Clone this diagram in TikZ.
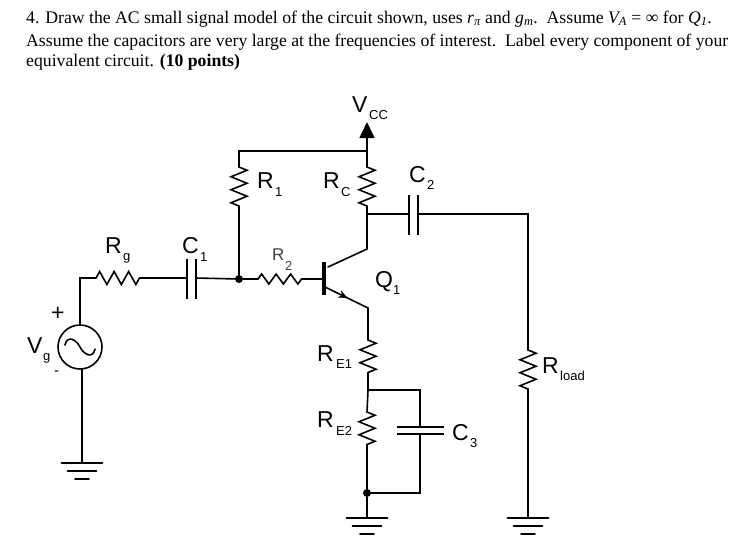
\documentclass[tikz,border=0pt]{standalone}
\usepackage{fontspec}
\setmainfont{Liberation Serif}
\newfontfamily\lblfont{Liberation Sans}
\usetikzlibrary{decorations.pathmorphing,decorations.markings,arrows.meta}
\tikzset{
  wire/.style={line width=1.6pt,line cap=round,line join=miter},
  res/.style={wire,decorate,decoration={zigzag,segment length=13pt,amplitude=8pt}},
  resh/.style={wire,decorate,decoration={zigzag,segment length=14.5pt,amplitude=6.5pt}},
  ress/.style={wire,decorate,decoration={zigzag,segment length=14.5pt,amplitude=5pt}},
  plate/.style={line width=1.6pt},
  dot/.style={circle,fill=black,inner sep=0pt,minimum size=8pt},
  para/.style={anchor=base west,inner sep=0pt,font=\fontsize{17.7}{20}\selectfont},
  lbl/.style={inner sep=0pt,anchor=base west,font=\lblfont\fontsize{23}{25}\selectfont},
  sub/.style={inner sep=0pt,anchor=base west,font=\lblfont\fontsize{13}{14}\selectfont},
}
\newcommand{\gnd}[3]{% name x y
  \coordinate (#1) at (#2,#3);
  \draw[wire] ([xshift=-20.5pt]#1) -- ([xshift=20.5pt]#1);
  \draw[wire] ([xshift=-14.5pt,yshift=-8pt]#1) -- ([xshift=14.5pt,yshift=-8pt]#1);
  \draw[wire] ([xshift=-7pt,yshift=-16pt]#1) -- ([xshift=7pt,yshift=-16pt]#1);
}
\begin{document}
\begin{tikzpicture}[x=1pt,y=-1pt]
\useasboundingbox (0,0) rectangle (746,558);
\fill[white] (0,0) rectangle (746,558);
% question text
\node[para] (l1) at (26,23) {4. Draw the AC small signal model of the circuit shown, uses \textit{r\textsubscript{π}} and \textit{g\textsubscript{m}}.\ \ Assume \textit{V\textsubscript{A}} = ∞ for \textit{Q\textsubscript{1}}.};
\node[para] (l2) at (26,46) {Assume the capacitors are very large at the frequencies of interest.\ \ Label every component of your};
\node[para] (l3) at (26,66) {equivalent circuit. \textbf{(10 points)}};
% coordinates
\coordinate (rgL) at (96,278); \coordinate (rgR) at (140,278);
\coordinate (src) at (80,278);
\coordinate (c1a) at (187,278); \coordinate (c1b) at (196,278);
\node[dot] (j1) at (239,279) {};
\coordinate (r1T) at (239,167); \coordinate (r1B) at (239,206);
\coordinate (topL) at (239,151); \coordinate (topR) at (367,151);
\coordinate (vcc) at (367,122);
\coordinate (rcT) at (367,167); \coordinate (rcB) at (367,206);
\coordinate (cj) at (367,214);
\coordinate (cc) at (367,249);
\coordinate (colB) at (328,267);
\coordinate (r2L) at (258,279); \coordinate (r2R) at (303,279);
\coordinate (base) at (323,279);
\coordinate (emB) at (325,287); \coordinate (emC) at (368,308);
\coordinate (re1T) at (368,340); \coordinate (re1B) at (368,378);
\coordinate (ej) at (368,390); \coordinate (re2T) at (367,412); \coordinate (re2B) at (367,448);
\coordinate (cr) at (420,390);
\coordinate (c3a) at (420,427); \coordinate (c3b) at (420,434);
\coordinate (cb) at (420,493);
\node[dot] (j2) at (367,493) {};
\coordinate (c2a) at (409,214); \coordinate (c2b) at (418,214);
\coordinate (lt) at (528,214);
\coordinate (rlT) at (528,350); \coordinate (rlB) at (528,389);
% source
\node[draw,circle,line width=1.6pt,minimum size=44pt,inner sep=0pt] (vg) at (80,347) {};
\draw[wire] ([shift={(-15pt,2pt)}]vg.center) .. controls +(2,-10) and +(-4,-8) .. (vg.center) .. controls +(4,8) and +(-2,10) .. ([shift={(15pt,-2pt)}]vg.center);
% grounds
\gnd{g1}{82}{463}
\gnd{g2}{367}{518}
\gnd{g3}{528}{518}
% wires
\draw[wire] (vg.north) -- (src) -- (rgL);
\draw[resh] (rgL) -- (rgR);
\draw[wire] (rgR) -- (c1a);
\draw[wire] (c1b) -- (j1);
\draw[plate] (187,259) -- (187,299);
\draw[plate] (196,259) -- (196,299);
\draw[wire] (vg.south -| g1) -- (g1);
\draw[wire] (j1) -- (r1B);
\draw[res] (r1B) -- (r1T);
\draw[wire] (r1T) -- (topL) -- (topR);
\draw[wire] (rcT) -- (topR);
\draw[wire,-{Triangle[length=16pt,width=15pt]}] (topR) -- (vcc);
\draw[res] (rcB) -- (rcT);
\draw[wire] (rcB) -- (cj) -- (cc) -- (colB);
\draw[wire] (j1) -- (r2L);
\draw[ress] (r2L) -- (r2R);
\draw[wire] (r2R) -- (base);
\draw[line width=4pt] (323.5,262) -- (323.5,295);
\draw[wire,decoration={markings,mark=at position 0.52 with {\arrow{Stealth[length=9pt,width=8pt]}}},postaction={decorate}] (emB) -- (emC);
\draw[wire] (emC) -- (re1T);
\draw[res] (re1T) -- (re1B);
\draw[wire] (re1B) -- (ej) -- (re2T);
\draw[res] (re2T) -- (re2B);
\draw[wire] (re2B) -- (j2) -- (g2);
\draw[wire] (ej) -- (cr) -- (c3a);
\draw[plate] (397,427) -- (444,427);
\draw[plate] (397,434) -- (444,434);
\draw[wire] (c3b) -- (cb) -- (j2);
\draw[wire] (cj) -- (c2a);
\draw[plate] (409,195) -- (409,235);
\draw[plate] (418,195) -- (418,235);
\draw[wire] (c2b) -- (lt) -- (rlT);
\draw[res] (rlT) -- (rlB);
\draw[wire] (rlB) -- (g3);
% labels
\node[lbl] (tvcc) at (352,112) {V}; \node[sub] (tcc) at (369,119) {CC};
\node[lbl] (tr1) at (257,188) {R}; \node[sub] (tr1s) at (275,196) {1};
\node[lbl] (trc) at (323,188) {R}; \node[sub] (trcs) at (341,196) {C};
\node[lbl] (tc2) at (409,182) {C}; \node[sub] (tc2s) at (427,189) {2};
\node[lbl] (trg) at (105,253) {R}; \node[sub] (trgs) at (123,260) {g};
\node[lbl] (tc1) at (182,253) {C}; \node[sub] (tc1s) at (200,261) {1};
\node[lbl,font=\lblfont\fontsize{17}{19}\selectfont,text=black!75] (tr2) at (272,260) {R}; \node[sub,text=black!75] (tr2s) at (285,270) {2};
\node[lbl] (tq1) at (375,287) {Q}; \node[sub] (tq1s) at (393,294) {1};
\node[lbl] (tplus) at (51,320) {+};
\node[lbl] (tvg) at (27,353) {V}; \node[sub] (tvgs) at (43,360) {g};
\node[sub,font=\lblfont\fontsize{15}{16}\selectfont] (tminus) at (54,375) {-};
\node[lbl] (tre1) at (317,361) {R}; \node[sub] (tre1s) at (336,368) {E1};
\node[lbl] (tre2) at (317,427) {R}; \node[sub] (tre2s) at (336,435) {E2};
\node[lbl] (tc3) at (452,440) {C}; \node[sub] (tc3s) at (470,447) {3};
\node[lbl] (trl) at (542,373) {R}; \node[sub] (trls) at (560,380) {load};
\end{tikzpicture}
\end{document}
